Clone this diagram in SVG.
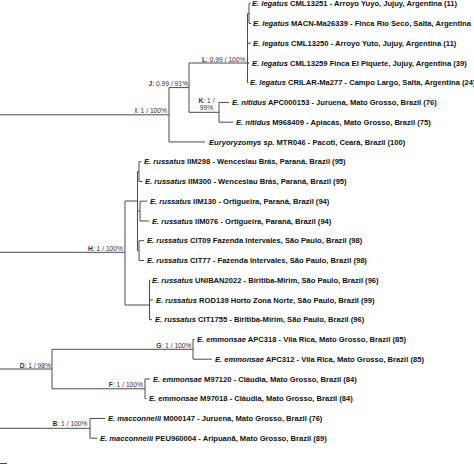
<svg xmlns="http://www.w3.org/2000/svg" width="474" height="474" viewBox="0 0 474 474">
<style>
.tip{font-family:"Liberation Sans",Arial,sans-serif;font-size:7.6px;font-weight:bold;fill:#111}
.sp{font-style:italic}
.nl{font-family:"Liberation Sans",Arial,sans-serif;font-size:6.7px;fill:#333;text-anchor:end}
.nl tspan.k{font-weight:bold}
.br{fill:none;stroke:#4a4a4a;stroke-width:1}
</style>
<rect width="474" height="474" fill="#fff"/>
<g id="connectors" class="br">
<path d="M0,114.8H169M169,87.6V141.95M169,87.6H189M169,141.95H205"/>
<path d="M189,63V112.3M189,63H249M189,112.3H219M219,102.45V122.2M219,102.45H229M219,122.2H233"/>
<path d="M247.5,13.6V82.7M247.5,82.7H248.5M249,3.7V23.45M247.5,13.6H249M249,3.7H250.5M249,23.45H251M247.5,43.2H251M247.5,62.95H249"/>
<path d="M0,252.3H125M125,201V305M125,201H137.5M125,305H149.5M137.5,171.6V250.6"/>
<path d="M137.5,171.6H139M139,161.7V181.45M139,161.7H141.5M139,181.45H142.5"/>
<path d="M137.5,211H140M140,201.2V220.95M140,201.2H147M140,220.95H149"/>
<path d="M137.5,250.6H139M139,240.7V260.45M139,240.7H144M139,260.45H144"/>
<path d="M149.5,280.2V319.7M149.5,280.2H150.5M149.5,299.95H153M149.5,319.7H152"/>
<path d="M0,369H52M52,349.3V388.8M52,349.3H193M52,388.8H145M193,339.45V359.2M193,339.45H194.5M193,359.2H212M145,378.95V398.7M145,378.95H150M145,398.7H146.5"/>
<path d="M0,428.3H90M90,418.45V438.2M90,418.45H105M90,438.2H97"/>
<path d="M0,463.5H7"/>
</g>
<g id="node-I"><text class="nl" x="167" y="112.5"><tspan class="k">I</tspan>: 1 / 100%</text></g>
<g id="node-J"><text class="nl" x="188" y="86"><tspan class="k">J</tspan>: 0.99 / 91%</text></g>
<g id="node-L"><text class="nl" x="245.5" y="61.5"><tspan class="k">L</tspan>: 0.99 / 100%</text></g>
<g id="node-K"><text class="nl" x="206.5" y="102.8" style="text-anchor:middle"><tspan class="k">K</tspan>: 1 /</text><text class="nl" x="206.5" y="109.6" style="text-anchor:middle">99%</text></g>
<g id="node-H"><text class="nl" x="123" y="250.5"><tspan class="k">H</tspan>: 1 / 100%</text></g>
<g id="node-G"><text class="nl" x="191.5" y="348"><tspan class="k">G</tspan>: 1 / 100%</text></g>
<g id="node-D"><text class="nl" x="51" y="367.5"><tspan class="k">D</tspan>: 1 / 98%</text></g>
<g id="node-F"><text class="nl" x="143" y="387"><tspan class="k">F</tspan>: 1 / 100%</text></g>
<g id="node-B"><text class="nl" x="87.5" y="426.3"><tspan class="k">B</tspan>: 1 / 100%</text></g>
<g id="tip-CML13251"><text class="tip" x="252" y="6.4"><tspan class="sp">E. legatus</tspan> CML13251 - Arroyo Yuyo, Jujuy, Argentina (11)</text></g>
<g id="tip-MACN-Ma26339"><text class="tip" x="253" y="26.15"><tspan class="sp">E. legatus</tspan> MACN-Ma26339 - Finca Río Seco, Salta, Argentina</text></g>
<g id="tip-CML13250"><text class="tip" x="253" y="45.9"><tspan class="sp">E. legatus</tspan> CML13250 - Arroyo Yuto, Jujuy, Argentina (11)</text></g>
<g id="tip-CML13259"><text class="tip" x="252" y="65.65"><tspan class="sp">E. legatus</tspan> CML13259 Finca El Piquete, Jujuy, Argentina (39)</text></g>
<g id="tip-CRILAR-Ma277"><text class="tip" x="250" y="85.4"><tspan class="sp">E. legatus</tspan> CRILAR-Ma277 - Campo Largo, Salta, Argentina (24)</text></g>
<g id="tip-APC000153"><text class="tip" x="232" y="105.15"><tspan class="sp">E. nitidus</tspan> APC000153 - Juruena, Mato Grosso, Brazil (76)</text></g>
<g id="tip-M968409"><text class="tip" x="236" y="124.9"><tspan class="sp">E. nitidus</tspan> M968409 - Apiacás, Mato Grosso, Brazil (75)</text></g>
<g id="tip-MTR046"><text class="tip" x="209" y="144.65"><tspan class="sp">Euryoryzomys sp.</tspan> MTR046 - Pacoti, Ceará, Brazil (100)</text></g>
<g id="tip-IIM298"><text class="tip" x="144" y="164.4"><tspan class="sp">E. russatus</tspan> IIM298 - Wenceslau Brás, Paraná, Brazil (95)</text></g>
<g id="tip-IIM300"><text class="tip" x="145" y="184.15"><tspan class="sp">E. russatus</tspan> IIM300 - Wenceslau Brás, Paraná, Brazil (95)</text></g>
<g id="tip-IIM130"><text class="tip" x="150" y="203.9"><tspan class="sp">E. russatus</tspan> IIM130 - Ortigueira, Paraná, Brazil (94)</text></g>
<g id="tip-IIM076"><text class="tip" x="152" y="223.65"><tspan class="sp">E. russatus</tspan> IIM076 - Ortigueira, Paraná, Brazil (94)</text></g>
<g id="tip-CIT09"><text class="tip" x="147" y="243.4"><tspan class="sp">E. russatus</tspan> CIT09 Fazenda Intervales, São Paulo, Brazil (98)</text></g>
<g id="tip-CIT77"><text class="tip" x="147" y="263.15"><tspan class="sp">E. russatus</tspan> CIT77 - Fazenda Intervales, São Paulo, Brazil (98)</text></g>
<g id="tip-UNIBAN2022"><text class="tip" x="152" y="282.9"><tspan class="sp">E. russatus</tspan> UNIBAN2022 - Biritiba-Mirim, São Paulo, Brazil (96)</text></g>
<g id="tip-ROD139"><text class="tip" x="156" y="302.65"><tspan class="sp">E. russatus</tspan> ROD139 Horto Zona Norte, São Paulo, Brazil (99)</text></g>
<g id="tip-CIT1755"><text class="tip" x="155" y="322.4"><tspan class="sp">E. russatus</tspan> CIT1755 - Biritiba-Mirim, São Paulo, Brazil (96)</text></g>
<g id="tip-APC318"><text class="tip" x="197" y="342.15"><tspan class="sp">E. emmonsae</tspan> APC318 - Vila Rica, Mato Grosso, Brazil (85)</text></g>
<g id="tip-APC312"><text class="tip" x="215" y="361.9"><tspan class="sp">E. emmonsae</tspan> APC312 - Vila Rica, Mato Grosso, Brazil (85)</text></g>
<g id="tip-M97120"><text class="tip" x="153" y="381.65"><tspan class="sp">E. emmonsae</tspan> M97120 - Cláudia, Mato Grosso, Brazil (84)</text></g>
<g id="tip-M97018"><text class="tip" x="149" y="401.4"><tspan class="sp">E. emmonsae</tspan> M97018 - Cláudia, Mato Grosso, Brazil (84)</text></g>
<g id="tip-M000147"><text class="tip" x="108" y="421.15"><tspan class="sp">E. macconnelli</tspan> M000147 - Juruena, Mato Grosso, Brazil (76)</text></g>
<g id="tip-PEU960004"><text class="tip" x="100" y="440.9"><tspan class="sp">E. macconnelli</tspan> PEU960004 - Aripuanã, Mato Grosso, Brazil (89)</text></g>
</svg>
